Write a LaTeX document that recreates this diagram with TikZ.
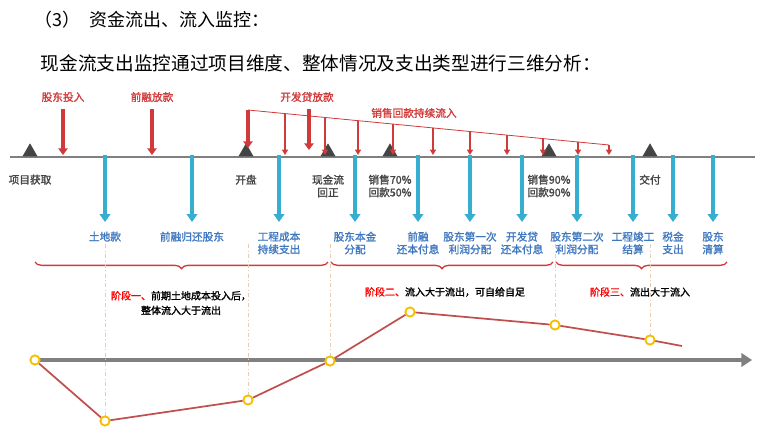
\documentclass[tikz,border=0pt]{standalone}
\usepackage{fontspec}
\setmainfont{Noto Sans CJK SC}
\newfontfamily\cjkb[FakeBold=1.5]{Noto Sans CJK SC}
\usetikzlibrary{positioning}
\usetikzlibrary{arrows.meta}
\usetikzlibrary{calc}
\usetikzlibrary{decorations.pathreplacing}
\usetikzlibrary{shapes.geometric}
\definecolor{inred}{HTML}{D03A3A}
\definecolor{outblue}{HTML}{35AECF}
\definecolor{lblblue}{HTML}{3F78C0}
\definecolor{evgray}{HTML}{444444}
\definecolor{curvered}{HTML}{C0504D}
\definecolor{ptyellow}{HTML}{F5C000}
\tikzset{inbig/.style={inred,line width=2.6pt,-{Triangle[length=5pt,width=7pt]}},
  insmall/.style={inred,line width=1.3pt,-{Triangle[length=4pt,width=4.5pt]}},
  outarr/.style={outblue,line width=3pt,-{Triangle[length=6pt,width=8pt]}},
  inlbl/.style={text=inred,font=\cjkb\fontsize{8}{9}\selectfont},
  outlbl/.style={text=lblblue,font=\cjkb\fontsize{8}{9.5}\selectfont,align=center},
  evlbl/.style={text=evgray,font=\cjkb\fontsize{8}{9.5}\selectfont,align=center},
  evmark/.style={fill=evgray,regular polygon,regular polygon sides=3,inner sep=2.3pt},
  guide/.style={draw=brown!40,dash dot,line width=0.5pt},
  brc/.style={draw=inred,line width=1pt,decorate,decoration={brace,mirror,amplitude=5pt}},
  pt/.style={circle,draw=ptyellow,fill=white,line width=1.3pt,inner sep=2.4pt}}
\begin{document}
\begin{tikzpicture}[x=0.75pt,y=-0.75pt]
\useasboundingbox (0,0) rectangle (760,442);
\node[anchor=west,font=\fontsize{13.5}{15}\selectfont] (title) at (30,20) {（3）\hspace{0.5em}资金流出、流入监控：};
\node[anchor=west,font=\fontsize{14}{16}\selectfont] (intro) at (36,63) {现金流支出监控通过项目维度、整体情况及支出类型进行三维分析：};
% timeline
\coordinate (tl0) at (10,157);
\coordinate (tl1) at (755,157);
\draw[gray,line width=1.2pt] (tl0) -- (tl1);
% events
\foreach \x/\n/\t in {30/get/项目获取,246/open/开盘,328/back/现金流\\回正,390/s70/销售70\%\\回款50\%,549/s90/销售90\%\\回款90\%,650/deliv/交付}{
  \node[evmark] (ev\n) at (\x,152) {};
  \node[evlbl,anchor=north] (lb\n) at (\x,170) {\t};}
% inflows
\node[inlbl] (inA) at (63,97) {股东投入};
\node[inlbl] (inB) at (152,97) {前融放款};
\node[inlbl] (inC) at (307,97) {开发贷放款};
\node[inlbl] (inD) at (414,113) {销售回款持续流入};
\draw[inbig] (63,109) -- (63,155);
\draw[inbig] (152,109) -- (152,155);
\draw[inbig] (309,109) -- (309,150);
\draw[inbig] (248,110) -- (248,148);
\coordinate (slA) at (248,110);
\coordinate (slB) at (609,145);
\draw[inred,line width=0.6pt] (slA) -- (slB);
\foreach \x in {285,325,358,393,433,470,507,543,578,609}
  \draw[insmall] ($(slA)!{(\x-248)/361}!(slB)$) -- (\x,155);
% outflows
\foreach \x/\n/\t in {105/land/土地款,192/refund/前融归还股东,279/cost/工程成本\\持续支出,355/capital/股东本金\\分配,418/repay/前融\\还本付息,470/profA/股东第一次\\利润分配,522/loan/开发贷\\还本付息,577/profB/股东第二次\\利润分配,633/settle/工程竣工\\结算,673/tax/税金\\支出,713/liq/股东\\清算}{
  \draw[outarr] (\x,155) -- (\x,222);
  \node[outlbl,anchor=north] (out\n) at (\x,227) {\t};}
% stage braces
\draw[brc] (35,262) -- (328,262);
\draw[brc] (331,262) -- (553,262);
\draw[brc] (556,262) -- (727,262);
\node[font=\cjkb\fontsize{7.5}{11}\selectfont,align=center] (stA) at (181,303) {\textcolor{red}{阶段一、}前期土地成本投入后，\\整体流入大于流出};
\node[font=\cjkb\fontsize{7.5}{11}\selectfont] (stB) at (445,292) {\textcolor{red}{阶段二、}流入大于流出，可自给自足};
\node[font=\cjkb\fontsize{7.5}{11}\selectfont] (stC) at (640,292) {\textcolor{red}{阶段三、}流出大于流入};
% cash curve
\draw[gray,line width=3pt,-{Triangle[length=8pt,width=10pt]}] (35,360) -- (752,360);
\node[pt] (p0) at (35,360) {};
\node[pt] (p1) at (105,421) {};
\node[pt] (p2) at (248,400) {};
\node[pt] (p3) at (330,361) {};
\node[pt] (p4) at (410,312) {};
\node[pt] (p5) at (555,325) {};
\node[pt] (p6) at (650,340) {};
\coordinate (pend) at (682,346);
\foreach \x/\p in {105/p1,248/p2,330/p3,555/p5,650/p6}
  \draw[guide] (\x,244) -- (\p);
\draw[curvered,line width=1.3pt] (p0) -- (p1) -- (p2) -- (p3) -- (p4) -- (p5) -- (p6) -- (pend);
\foreach \p in {p0,p1,p2,p3,p4,p5,p6} \node[pt] at (\p) {};
\end{tikzpicture}
\end{document}
